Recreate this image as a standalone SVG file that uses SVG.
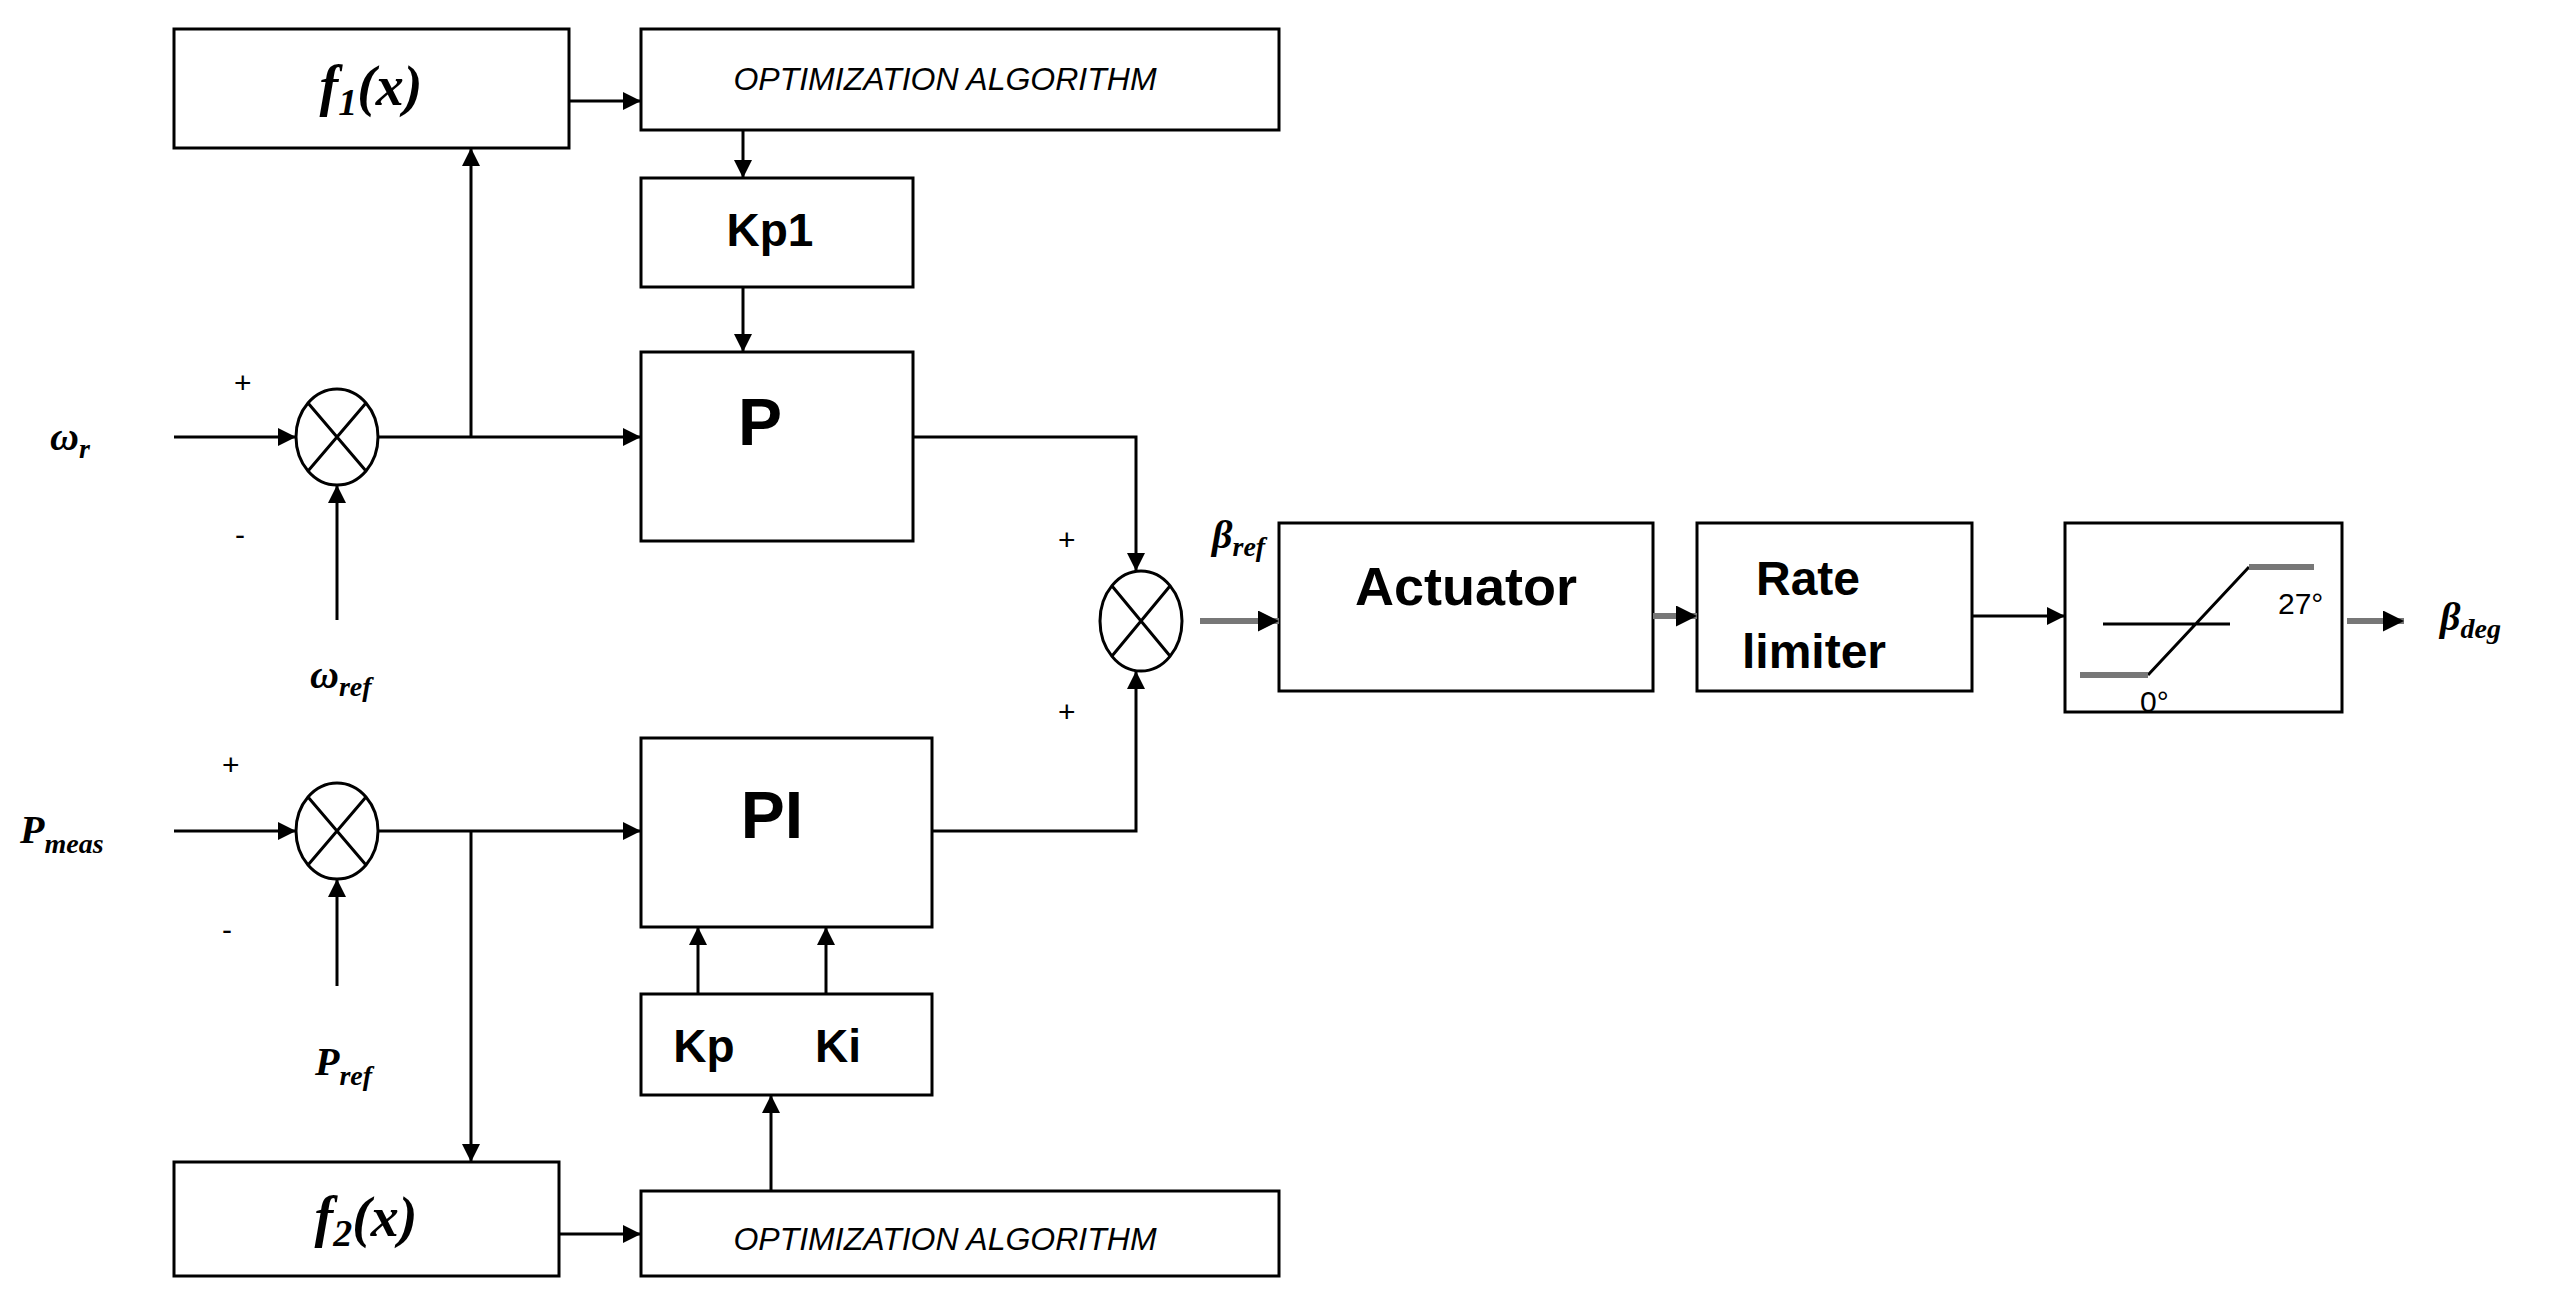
<svg xmlns="http://www.w3.org/2000/svg" width="2555" height="1294" viewBox="0 0 2555 1294">
<style>
.b{fill:#fff;stroke:#000;stroke-width:3}
.l{fill:none;stroke:#000;stroke-width:3}
.g{fill:none;stroke:#777;stroke-width:6}
.t{font-family:"Liberation Sans",Arial,sans-serif;font-weight:bold;text-anchor:middle;fill:#000}
.o{font-family:"Liberation Sans",Arial,sans-serif;font-style:italic;font-size:32px;text-anchor:middle;fill:#000}
.m{font-family:"Liberation Serif","DejaVu Serif",serif;font-style:italic;font-weight:bold;fill:#000}
.s{font-family:"Liberation Sans",Arial,sans-serif;font-size:30px;fill:#000}
</style>
<defs>
<marker id="a" viewBox="0 0 10 10" refX="10" refY="5" markerWidth="6" markerHeight="6" orient="auto" markerUnits="strokeWidth"><path d="M0,0L10,5L0,10z" fill="#000"/></marker>
<marker id="ag" viewBox="0 0 10 10" refX="10" refY="5" markerWidth="3.5" markerHeight="3.5" orient="auto" markerUnits="strokeWidth"><path d="M0,0L10,5L0,10z" fill="#000"/></marker>
</defs>
<rect width="2555" height="1294" fill="#fff"/>
<g id="f1"><rect class="b" x="174" y="29" width="395" height="119"/><text class="m" x="371" y="105" font-size="56" text-anchor="middle">f<tspan font-size="38" dy="10">1</tspan><tspan dy="-10">(x)</tspan></text></g>
<g id="opt1"><rect class="b" x="641" y="29" width="638" height="101"/><text class="o" x="945" y="90">OPTIMIZATION ALGORITHM</text></g>
<g id="kp1"><rect class="b" x="641" y="178" width="272" height="109"/><text class="t" x="770" y="246" font-size="46">Kp1</text></g>
<g id="p"><rect class="b" x="641" y="352" width="272" height="189"/><text class="t" x="760" y="445" font-size="66">P</text></g>
<g id="sum1"><ellipse class="l" cx="337" cy="437" rx="41" ry="48" stroke-width="2"/><path class="l" stroke-width="2" d="M308,403L366,471M366,403L308,471"/></g>
<g id="pi"><rect class="b" x="641" y="738" width="291" height="189"/><text class="t" x="772" y="838" font-size="66">PI</text></g>
<g id="sum2"><ellipse class="l" cx="337" cy="831" rx="41" ry="48" stroke-width="2"/><path class="l" stroke-width="2" d="M308,797L366,865M366,797L308,865"/></g>
<g id="kpki"><rect class="b" x="641" y="994" width="291" height="101"/><text class="t" x="704" y="1062" font-size="46">Kp</text><text class="t" x="838" y="1062" font-size="46">Ki</text></g>
<g id="f2"><rect class="b" x="174" y="1162" width="385" height="114"/><text class="m" x="366" y="1236" font-size="56" text-anchor="middle">f<tspan font-size="38" dy="10">2</tspan><tspan dy="-10">(x)</tspan></text></g>
<g id="opt2"><rect class="b" x="641" y="1191" width="638" height="85"/><text class="o" x="945" y="1250">OPTIMIZATION ALGORITHM</text></g>
<g id="sum3"><ellipse class="l" cx="1141" cy="621" rx="41" ry="50" stroke-width="2"/><path class="l" stroke-width="2" d="M1112,586L1170,656M1170,586L1112,656"/></g>
<g id="act"><rect class="b" x="1279" y="523" width="374" height="168"/><text class="t" x="1466" y="605" font-size="54">Actuator</text></g>
<g id="rl"><rect class="b" x="1697" y="523" width="275" height="168"/><text class="t" x="1808" y="595" font-size="48">Rate</text><text class="t" x="1814" y="668" font-size="48">limiter</text></g>
<g id="sat"><rect class="b" x="2065" y="523" width="277" height="189"/>
<path class="l" d="M2103,624H2230M2148,675L2249,567"/><path class="g" d="M2080,675H2148M2249,567H2314"/>
<text class="s" x="2278" y="614">27°</text><text class="s" x="2140" y="712">0°</text></g>
<g id="labels">
<text class="m" x="50" y="450" font-size="40">ω<tspan font-size="28" dy="8">r</tspan></text>
<text class="m" x="310" y="688" font-size="40">ω<tspan font-size="28" dy="8">ref</tspan></text>
<text class="m" x="20" y="843" font-size="40">P<tspan font-size="28" dy="10">meas</tspan></text>
<text class="m" x="315" y="1075" font-size="40">P<tspan font-size="28" dy="10">ref</tspan></text>
<text class="m" x="1212" y="548" font-size="40">β<tspan font-size="28" dy="8">ref</tspan></text>
<text class="m" x="2440" y="630" font-size="40">β<tspan font-size="28" dy="8">deg</tspan></text>
<text class="s" x="234" y="393">+</text><text class="s" x="235" y="545">-</text>
<text class="s" x="222" y="775">+</text><text class="s" x="222" y="940">-</text>
<text class="s" x="1058" y="550">+</text><text class="s" x="1058" y="722">+</text>
</g>
<g id="connectors">
<path class="l" marker-end="url(#a)" d="M174,437H296"/>
<path class="l" marker-end="url(#a)" d="M337,620V485"/>
<path class="l" marker-end="url(#a)" d="M378,437H641"/>
<path class="l" marker-end="url(#a)" d="M471,437V148"/>
<path class="l" marker-end="url(#a)" d="M569,101H641"/>
<path class="l" marker-end="url(#a)" d="M743,130V178"/>
<path class="l" marker-end="url(#a)" d="M743,287V352"/>
<path class="l" marker-end="url(#a)" d="M913,437H1136V571"/>
<path class="l" marker-end="url(#a)" d="M174,831H296"/>
<path class="l" marker-end="url(#a)" d="M337,986V879"/>
<path class="l" marker-end="url(#a)" d="M378,831H641"/>
<path class="l" marker-end="url(#a)" d="M471,831V1162"/>
<path class="l" marker-end="url(#a)" d="M559,1234H641"/>
<path class="l" marker-end="url(#a)" d="M771,1191V1095"/>
<path class="l" marker-end="url(#a)" d="M698,994V927"/>
<path class="l" marker-end="url(#a)" d="M826,994V927"/>
<path class="l" marker-end="url(#a)" d="M932,831H1136V671"/>
<path class="g" marker-end="url(#ag)" d="M1200,621H1279"/>
<path class="g" marker-end="url(#ag)" d="M1653,616H1697"/>
<path class="l" marker-end="url(#a)" d="M1972,616H2065"/>
<path class="g" marker-end="url(#ag)" d="M2347,621H2404"/>
</g>
</svg>
